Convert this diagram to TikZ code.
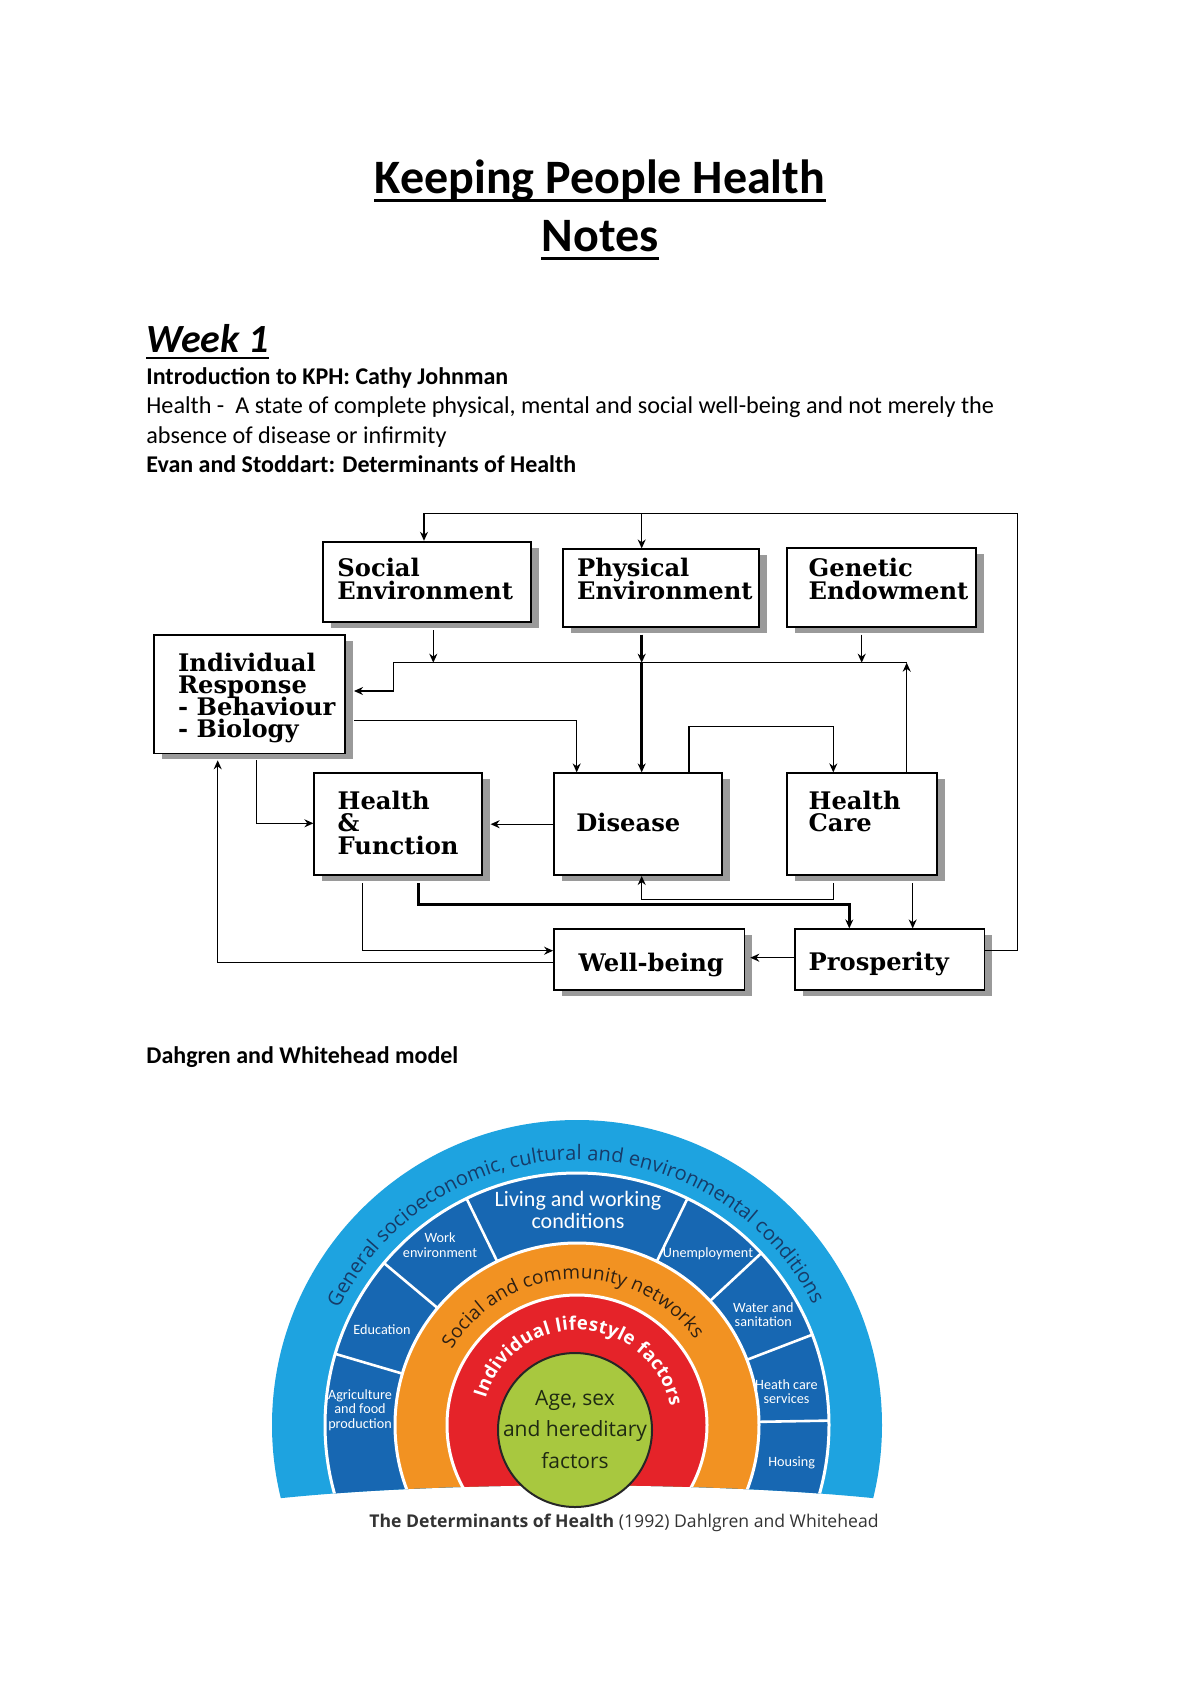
\documentclass[tikz,border=0pt]{standalone}
\usepackage{fontspec}
\setmainfont{Carlito}
\newfontfamily\osans{Open Sans}
\newfontfamily\dser{DejaVu Serif}
\usetikzlibrary{arrows.meta,shadows,decorations.text,calc}
\definecolor{lblue}{HTML}{1EA3E0}
\definecolor{dblue}{HTML}{1767B2}
\definecolor{orng}{HTML}{F29222}
\definecolor{redc}{HTML}{E52329}
\definecolor{grn}{HTML}{A8C83F}
\definecolor{navy}{HTML}{173B68}
\definecolor{brn}{HTML}{2E2013}
\definecolor{shgray}{HTML}{9A9A9A}
\definecolor{capc}{HTML}{333333}
\definecolor{agetxt}{HTML}{1F2A12}
% stacked lines: baseline of the node = baseline of the first line
\newcommand\vl[2]{\vtop{\baselineskip=#1\lineskiplimit=-30pt\lineskip=0pt #2}}
\newcommand\cl[1]{\hbox to 0pt{\hss #1\hss}}
\tikzset{
  fbox/.style={draw, line width=0.9pt, fill=white, inner sep=0pt,
    drop shadow={shadow xshift=4pt, shadow yshift=-3pt, fill=shgray, opacity=1}},
  btxt/.style={anchor=base west, inner sep=0pt, font=\dser\bfseries\fontsize{12.1}{11.3}\selectfont},
  conn/.style={line width=0.7pt},
  arr/.style={conn, -{Stealth[length=4.5pt,width=4pt]}},
  thk/.style={line width=1.4pt},
  htxt/.style={anchor=base west, inner sep=0pt, font=\fontsize{12}{14.5}\selectfont},
  seg/.style={anchor=base, inner sep=0pt, text=white, font=\fontsize{7.1}{8}\selectfont},
  agel/.style={anchor=base, inner sep=0pt, text=agetxt, font=\osans\fontsize{10.5}{12}\selectfont},
}
\begin{document}
\begin{tikzpicture}[x=0.5pt,y=0.5pt]
\useasboundingbox (0,0) rectangle (1200,-1698);
\fill[white] (0,0) rectangle (1200,-1698);

% ---------- header ----------
\node[anchor=base, inner sep=0pt, font=\bfseries\fontsize{24}{28}\selectfont] (title) at (600,-193) {Keeping People Health};
\draw[line width=1.5pt] ([yshift=-3.5pt]title.base west) -- ([yshift=-3.5pt]title.base east);
\node[anchor=base, inner sep=0pt, font=\bfseries\fontsize{24}{28}\selectfont] (notes) at (600,-251) {Notes\ };
\draw[line width=1.5pt] ([yshift=-3.5pt]notes.base west) -- ([yshift=-3.5pt]notes.base east);
\node[anchor=base west, inner sep=0pt, font=\bfseries\itshape\fontsize{20}{24}\selectfont] (wk) at (146,-352) {Week 1\ };
\draw[line width=1.3pt] ([yshift=-3pt]wk.base west) -- ([yshift=-3pt]wk.base east);
\node[htxt, font=\bfseries\fontsize{12}{14.5}\selectfont] (intro) at (146,-384.5) {Introduction to KPH: Cathy Johnman};
\node[htxt, font=\fontsize{12.1}{14.5}\selectfont] (def1) at (146,-413.7) {Health -\ \ A state of complete physical, mental and social well-being and not merely the};
\node[htxt, font=\fontsize{12.1}{14.5}\selectfont] (def2) at (146,-443) {absence of disease or infirmity};
\node[htxt, font=\bfseries\fontsize{12}{14.5}\selectfont] (evan) at (146,-472) {Evan and Stoddart: Determinants of Health};

% ---------- Evans & Stoddart boxes ----------
\node[fbox, minimum width=104.2pt, minimum height=40.3pt] (soc) at (426.9,-582) {};
\node[fbox, minimum width=98.2pt, minimum height=38.7pt] (phy) at (660.9,-588) {};
\node[fbox, minimum width=94.5pt, minimum height=39.2pt] (gen) at (881.2,-587.5) {};
\node[fbox, minimum width=95.4pt, minimum height=59.2pt] (ind) at (249.7,-694.2) {};
\node[fbox, minimum width=83.7pt, minimum height=50.9pt] (hf) at (398,-824.2) {};
\node[fbox, minimum width=83.9pt, minimum height=50.9pt] (dis) at (637.9,-824.2) {};
\node[fbox, minimum width=75pt, minimum height=50.9pt] (hc) at (861.7,-824.2) {};
\node[fbox, minimum width=95.2pt, minimum height=30.4pt] (wb) at (649.2,-959.7) {};
\node[fbox, minimum width=94.7pt, minimum height=30.4pt] (pro) at (889.7,-959.7) {};

\node[btxt] (soct) at (337,-576.7) {\vl{11.6pt}{\hbox{Social}\hbox{Environment}}};
\node[btxt] (phyt) at (576.7,-576.7) {\vl{11.3pt}{\hbox{Physical}\hbox{Environment}}};
\node[btxt] (gent) at (808.3,-576.7) {\vl{11.3pt}{\hbox{Genetic}\hbox{Endowment}}};
\node[btxt] (indt) at (177.7,-671.7) {\vl{11pt}{\hbox{Individual}\hbox{Response}\hbox{- Behaviour}\hbox{- Biology}}};
\node[btxt] (hft) at (337.3,-809.3) {\vl{11.25pt}{\hbox{Health}\hbox{\&}\hbox{Function}}};
\node[btxt] (dist) at (576,-831.7) {Disease};
\node[btxt] (hct) at (808.3,-809.3) {\vl{11.2pt}{\hbox{Health}\hbox{Care}}};
\node[btxt] (wbt) at (578.3,-971) {Well-being};
\node[btxt] (prot) at (808.3,-970) {Prosperity};

% ---------- connector coordinates ----------
\coordinate (tr) at (1017.7,-513.3);
\coordinate (tl) at (424,-513.3);
\coordinate (tp) at (641.7,-513.3);
\coordinate (pe) at (984.3,-950.7);
\coordinate (bl) at (393.3,-662.7);
\coordinate (br) at (906.7,-662.7);
\coordinate (ia) at (393.3,-691);
\coordinate (sb) at (433.3,-662.7);
\coordinate (pb) at (641.7,-662.7);
\coordinate (gb) at (861.7,-662.7);
\coordinate (id) at (576.7,-720.7);
\coordinate (dh1) at (689,-726.7);
\coordinate (dh2) at (833.3,-726.7);
\coordinate (ih) at (256.7,-823.3);
\coordinate (hw) at (362.3,-950.7);
\coordinate (wi) at (217.7,-962.3);
\coordinate (hp1) at (418.3,-904.3);
\coordinate (hp2) at (849.3,-904.3);
\coordinate (cd1) at (833.3,-899.3);
\coordinate (cd2) at (641.7,-899.3);
\coordinate (cp) at (912.7,-900);
\coordinate (pw) at (795,-957.7);

% ---------- connectors ----------
\draw[conn] (pro.east |- pe) -| (tr) -- (tl);
\draw[arr] (tl) -- (tl |- soc.north);
\draw[arr] (tp) -- (tp |- phy.north);
\draw[conn] (bl) -- (br);
\draw[arr] (bl) -- (ia) -- ([xshift=4pt]ind.east |- ia);
\draw[arr] ([yshift=-3.5pt]soc.south -| sb) -- (sb);
\draw[arr, thk] ([yshift=-3.5pt]phy.south -| pb) -- (pb);
\draw[arr, thk] (pb) -- (pb |- dis.north);
\draw[arr] ([yshift=-3.5pt]gen.south -| gb) -- (gb);
\draw[arr] (hc.north -| br) -- (br);
\draw[arr] ([xshift=4pt]ind.east |- id) -- (id) -- (id |- dis.north);
\draw[arr] (dh1 |- dis.north) -- (dh1) -- (dh2) -- (dh2 |- hc.north);
\draw[arr] ([yshift=-3pt]ind.south -| ih) -- (ih) -- (hf.west |- ih);
\draw[arr] (dis.west) -- ([xshift=4pt]hf.east);
\draw[arr] ([yshift=-3.5pt]hf.south -| hw) -- (hw) -- (wb.west |- hw);
\draw[arr] (wb.west |- wi) -- (wi) -- ([yshift=-3pt]ind.south -| wi);
\draw[arr, thk] ([yshift=-3.5pt]hf.south -| hp1) -- (hp1) -- (hp2) -- (hp2 |- pro.north);
\draw[arr] ([yshift=-3.5pt]hc.south -| cd1) -- (cd1) -- (cd2) -- (cd2 |- dis.south);
\draw[arr] ([yshift=-3.5pt]hc.south -| cp) -- (cp |- pro.north);
\draw[arr] (pro.west |- pw) -- ([xshift=2.5pt]wb.east |- pw);

% ---------- Dahlgren & Whitehead ----------
\node[htxt, font=\bfseries\fontsize{12}{14.5}\selectfont] (dah) at (146,-1063.5) {Dahgren and Whitehead model};

\coordinate (C) at (577,-1425);
\begin{scope}
\clip (255,-1501) -- (255,-1100) -- (900,-1100) -- (900,-1501) .. controls (720,-1480) and (430,-1480) .. (255,-1501) -- cycle;
\fill[lblue] (C) circle (305);
\fill[dblue] (C) circle (252);
\fill[orng] (C) circle (182);
\fill[redc] (C) circle (130);
\draw[white, line width=1.5pt] (C) circle (252);
\draw[white, line width=1.5pt] (C) circle (182);
\draw[white, line width=1.5pt] (C) circle (130);
\foreach \a in {163.6,140,116,64,43,21,1}
  \draw[white, line width=1.3pt] ($(C)+(\a:182)$) -- ($(C)+(\a:252)$);
\end{scope}
\draw[black!85, line width=1pt, fill=grn] (575,-1430) circle (77);

% curved texts
\path[decorate, decoration={text along path, text color=navy, text align={fit to path},
  text={|\osans\fontsize{10}{12}\selectfont|General socioeconomic, cultural and environmental conditions}}]
  ($(C)+(154:265)$) arc[start angle=154, end angle=27, radius=265];
\path[decorate, decoration={text along path, text color=brn, text align={fit to path},
  text={|\osans\fontsize{9.5}{12}\selectfont|Social and community networks}}]
  ($(C)+(149:146)$) arc[start angle=149, end angle=36, radius=146];
\path[decorate, decoration={text along path, text color=white, text align={fit to path},
  text={|\osans\bfseries\fontsize{9.3}{12}\selectfont|Individual lifestyle factors}}]
  ($(C)+(164:95)$) arc[start angle=164, end angle=11, radius=95];

% segment labels
\node[anchor=base, inner sep=0pt, text=white, font=\fontsize{11}{11}\selectfont] (liv) at (578,-1206.7)
  {\vl{10.7pt}{\cl{Living and working}\cl{conditions}}};
\node[seg] (agr) at (360,-1399) {\vl{7.3pt}{\cl{Agriculture}\cl{and food}\cl{production}}};
\node[seg] (edu) at (382,-1334) {Education};
\node[seg] (wrk) at (440,-1242) {\vl{7.8pt}{\cl{Work}\cl{environment}}};
\node[seg] (une) at (708,-1257) {Unemployment};
\node[seg] (wat) at (763.3,-1312) {\vl{7pt}{\cl{Water and}\cl{sanitation}}};
\node[seg] (hcs) at (786.5,-1389) {\vl{7.4pt}{\cl{Heath care}\cl{services}}};
\node[seg] (hou) at (791.7,-1466) {Housing};

\node[agel] (age) at (575,-1405) {\vl{15.9pt}{\cl{Age, sex}\cl{and hereditary}\cl{factors}}};

\node[anchor=base, inner sep=0pt, text=capc, font=\osans\fontsize{8.8}{11}\selectfont] (cap) at (624,-1527)
  {{\bfseries The Determinants of Health} (1992) Dahlgren and Whitehead};
\end{tikzpicture}
\end{document}
